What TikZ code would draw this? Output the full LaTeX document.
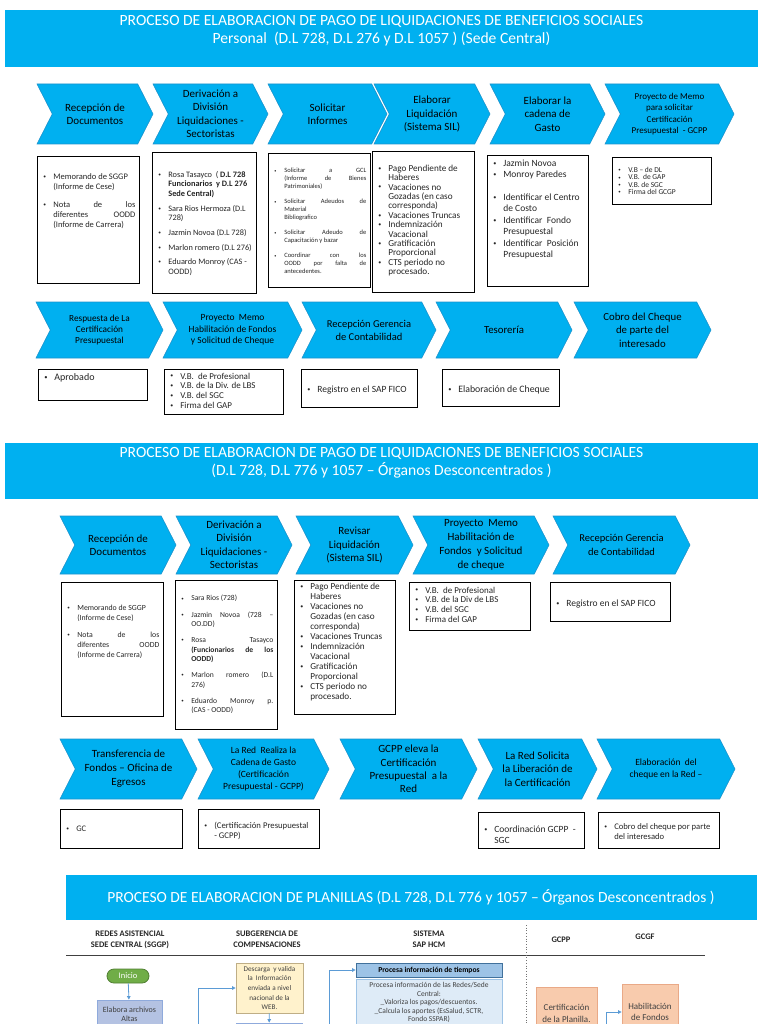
\documentclass[tikz,border=0pt]{standalone}
\usepackage{fontspec}
\setmainfont{Carlito}
\usetikzlibrary{shapes.symbols,arrows.meta,positioning}

\definecolor{hdrblue}{HTML}{00B0F0}
\definecolor{chevedge}{HTML}{1C93CC}
\definecolor{flowblue}{HTML}{5B9BD5}
\definecolor{startgreen}{HTML}{70AD47}
\definecolor{startedge}{HTML}{507E32}
\definecolor{altasfill}{HTML}{B4C2E2}
\definecolor{altasedge}{HTML}{8FAADC}
\definecolor{yelfill}{HTML}{FFF2CC}
\definecolor{yeledge}{HTML}{BFAE86}
\definecolor{tmphdfill}{HTML}{9DC3E6}
\definecolor{tmphdedge}{HTML}{41719C}
\definecolor{tmpfill}{HTML}{DEEBF7}
\definecolor{orgfill}{HTML}{F8CBAD}
\definecolor{orgedge}{HTML}{E9A987}
\definecolor{flowtext}{HTML}{404040}

% bullet item, gap between items, framed list of fixed size
\newcommand\itm{\par\hangindent=12pt\hangafter=1\noindent\makebox[12pt][l]{\hspace{2pt}\raisebox{0.12em}{\scalebox{0.65}{\textbullet}}}}
\newcommand\igap[1]{\par\vspace{#1pt}}
\newcommand\lbox[3]{\parbox[c][#2pt][t]{#1pt}{\raggedright #3}}

\begin{document}
\begin{tikzpicture}[x=1pt, y=-1pt, >={Triangle[length=3.5pt,width=3.5pt]},
  hdr/.style={fill=hdrblue, inner sep=0pt},
  hdrtxt/.style={text=white, align=center, inner sep=0pt, font=\fontsize{15.6}{18}\selectfont},
  chev/.style={signal, signal from=west, signal to=east, signal pointer angle=126,
    fill=hdrblue, draw=chevedge, line width=0.6pt, inner sep=0pt, align=center,
    font=\fontsize{11}{13.5}\selectfont},
  infobox/.style={draw=black, line width=0.7pt, fill=white, anchor=north west,
    inner xsep=4pt, inner ysep=3pt, text=black!85},
  colhd/.style={align=center, text=black!85, font=\bfseries\fontsize{8.5}{11}\selectfont},
  startnode/.style={fill=startgreen, draw=startedge, line width=0.8pt, rounded corners=7pt,
    text=white, font=\fontsize{8.5}{10}\selectfont},
  altasbox/.style={fill=altasfill, draw=altasedge, line width=0.7pt, align=center,
    text=flowtext, font=\fontsize{8}{9.5}\selectfont},
  yelbox/.style={fill=yelfill, draw=yeledge, line width=0.7pt, align=center,
    text=flowtext, font=\fontsize{7.2}{9.6}\selectfont},
  tmphd/.style={fill=tmphdfill, draw=tmphdedge, line width=0.7pt, text=black,
    font=\bfseries\fontsize{7.6}{9}\selectfont},
  tmpbody/.style={fill=tmpfill, draw=tmphdfill, line width=0.7pt, align=center, text=flowtext,
    inner ysep=3pt, font=\fontsize{7.5}{8.6}\selectfont},
  orgbox/.style={fill=orgfill, draw=orgedge, line width=0.7pt, align=center,
    text=flowtext, font=\fontsize{9}{11.5}\selectfont},
  flow/.style={draw=flowblue, line width=0.8pt}]
\path[use as bounding box] (0,0) rectangle (768,1024);
\clip (0,0) rectangle (768,1024);

% ---- Sede Central
\node[hdr, minimum width=753pt, minimum height=57pt] (hdrA) at (381.5,38.5) {};
\node[hdrtxt] (ttlA) at (381.5,31) {PROCESO DE ELABORACION DE PAGO DE LIQUIDACIONES DE BENEFICIOS SOCIALES\\Personal~ (D.L 728, D.L 276 y D.L 1057 ) (Sede Central)};

\node[chev, minimum width=116pt, minimum height=60pt] (sA1) at (95,114) {Recepción de\\Documentos};
\node[chev, minimum width=115pt, minimum height=60pt] (sA2) at (210.5,114) {Derivación a\\División\\Liquidaciones -\\Sectoristas};
\node[chev, minimum width=119pt, minimum height=60pt] (sA3) at (327.5,114) {Solicitar\\Informes};
\node[chev, minimum width=116pt, minimum height=60pt] (sA4) at (432,114) {Elaborar\\Liquidación\\(Sistema SIL)};
\node[chev, minimum width=115pt, minimum height=60pt] (sA5) at (547.5,114) {Elaborar la\\cadena de\\Gasto};
\node[chev, minimum width=129pt, minimum height=60pt, font=\fontsize{9}{11.4}\selectfont] (sA6) at (669.5,114) {Proyecto de Memo\\para solicitar\\Certificación\\Presupuestal~ - GCPP};

\node[infobox, font=\fontsize{8.5}{10}\selectfont] (bA1) at (37,156) {\lbox{94}{121}{\vspace*{14.7pt}%
  \itm Memorando de SGGP\newline (Informe de Cese)
  \igap{8}\itm Nota\hfill de\hfill los\newline diferentes\hfill OODD\newline (Informe de Carrera)}};
\node[infobox, font=\fontsize{8.3}{9.7}\selectfont] (bA2) at (152,152) {\lbox{96}{135}{\vspace*{15.6pt}%
  \itm Rosa Tasayco~ ( \textbf{D.L 728\newline Funcionarios~ y D.L 276\newline Sede Central)}
  \igap{5}\itm Sara Rios Hermoza (D.L\newline 728)
  \igap{5}\itm Jazmin Novoa (D.L 728)
  \igap{5}\itm Marlon romero (D.L 276)
  \igap{5}\itm Eduardo Monroy (CAS -\newline OODD)}};
\node[infobox, font=\fontsize{6.5}{8}\selectfont] (bA3) at (268,153) {\lbox{94}{128}{\vspace*{12pt}%
  \itm Solicitar\hfill a\hfill GCL\newline (Informe\hfill de\hfill Bienes\newline Patrimoniales)
  \igap{7}\itm Solicitar\hfill Adeudos\hfill de\newline Material\newline Bibliografico
  \igap{7}\itm Solicitar\hfill Adeudo\hfill de\newline Capacitación y bazar
  \igap{7}\itm Coordinar\hfill con\hfill los\newline OODD\hfill por\hfill falta\hfill de\newline antecedentes.}};
\node[infobox, font=\fontsize{9.2}{9.4}\selectfont] (bA4) at (372,151) {\lbox{94}{135}{\vspace*{10.5pt}%
  \itm Pago Pendiente de\newline Haberes
  \itm Vacaciones no\newline Gozadas (en caso\newline corresponda)
  \itm Vacaciones Truncas
  \itm Indemnización\newline Vacacional
  \itm Gratificación\newline Proporcional
  \itm CTS periodo no\newline procesado.}};
\node[infobox, font=\fontsize{9.5}{11.5}\selectfont] (bA5) at (487,155) {\lbox{93}{125}{\vspace*{1.5pt}%
  \itm Jazmin Novoa
  \itm Monroy Paredes
  \igap{11}\itm Identificar el Centro\newline de Costo
  \itm Identificar~ Fondo\newline Presupuestal
  \itm Identificar~ Posición\newline Presupuestal}};
\node[infobox, font=\fontsize{7.5}{7.3}\selectfont] (bA6) at (612,157) {\lbox{91}{41}{\vspace*{7.1pt}%
  \itm V.B – de DL
  \itm V.B.~ de GAP
  \itm V.B. de SGC
  \itm Firma del GCGP}};

\node[chev, minimum width=127pt, minimum height=56pt, font=\fontsize{9.3}{11.3}\selectfont] (sB1) at (99.5,330) {Respuesta de La\\Certificación\\Presupuestal};
\node[chev, minimum width=139pt, minimum height=56pt, font=\fontsize{9.5}{11.3}\selectfont] (sB2) at (232.5,330) {Proyecto~ Memo\\Habilitación de Fondos\\y Solicitud de Cheque};
\node[chev, minimum width=134pt, minimum height=56pt, font=\fontsize{10.5}{13}\selectfont] (sB3) at (369,330) {Recepción Gerencia\\de Contabilidad};
\node[chev, minimum width=136pt, minimum height=56pt, font=\fontsize{10.8}{13}\selectfont] (sB4) at (504,330) {Tesorería};
\node[chev, minimum width=137pt, minimum height=56pt, font=\fontsize{10.8}{13.3}\selectfont] (sB5) at (642.5,330) {Cobro del Cheque\\de parte del\\interesado};

\node[infobox, font=\fontsize{10}{11}\selectfont] (bB1) at (38,369) {\lbox{101}{25}{\vspace*{1pt}%
  \itm Aprobado}};
\node[infobox, font=\fontsize{9}{9.7}\selectfont] (bB2) at (164,369) {\lbox{111}{39}{\vspace*{0.4pt}%
  \itm V.B.~ de Profesional
  \itm V.B. de la Div. de LBS
  \itm V.B. del SGC
  \itm Firma del GAP}};
\node[infobox, font=\fontsize{9.5}{11}\selectfont] (bB3) at (301,369) {\lbox{108}{32}{\vspace*{13.5pt}%
  \itm Registro en el SAP FICO}};
\node[infobox, font=\fontsize{9.8}{11}\selectfont] (bB4) at (442,369) {\lbox{109}{31}{\vspace*{13.4pt}%
  \itm Elaboración de Cheque}};

% ---- Organos Desconcentrados
\node[hdr, minimum width=753pt, minimum height=56pt] (hdrB) at (381.5,471) {};
\node[hdrtxt] (ttlB) at (381.5,463) {PROCESO DE ELABORACION DE PAGO DE LIQUIDACIONES DE BENEFICIOS SOCIALES\\(D.L 728, D.L 776 y 1057 – Órganos Desconcentrados )};

\node[chev, minimum width=116pt, minimum height=58pt] (sC1) at (118,545) {Recepción de\\Documentos};
\node[chev, minimum width=116pt, minimum height=58pt] (sC2) at (234,545) {Derivación a\\División\\Liquidaciones -\\Sectoristas};
\node[chev, minimum width=117pt, minimum height=58pt] (sC3) at (354.5,545) {Revisar\\Liquidación\\(Sistema SIL)};
\node[chev, minimum width=136pt, minimum height=58pt, font=\fontsize{11}{13.8}\selectfont] (sC4) at (481,545) {Proyecto~ Memo\\Habilitación de\\Fondos~ y Solicitud\\de cheque};
\node[chev, minimum width=137pt, minimum height=58pt, font=\fontsize{10.5}{13.5}\selectfont] (sC5) at (621.5,545) {Recepción Gerencia\\de Contabilidad};

\node[infobox, font=\fontsize{7.8}{10}\selectfont] (bC1) at (61,582) {\lbox{94}{128}{\vspace*{20pt}%
  \itm Memorando de SGGP\newline (Informe de Cese)
  \igap{7}\itm Nota\hfill de\hfill los\newline diferentes\hfill OODD\newline (Informe de Carrera)}};
\node[infobox, font=\fontsize{7.6}{9.3}\selectfont] (bC2) at (175,580) {\lbox{94}{143}{\vspace*{12pt}%
  \itm Sara Rios (728)
  \igap{7}\itm Jazmin\hfill Novoa\hfill (728\hfill –\newline OO.DD)
  \igap{7}\itm Rosa\hfill Tasayco\newline \textbf{(Funcionarios\hfill de\hfill los\newline OODD)}
  \igap{7}\itm Marlon\hfill romero\hfill (D.L\newline 276)
  \igap{7}\itm Eduardo\hfill Monroy\hfill p.\newline (CAS - OODD)}};
\node[infobox, font=\fontsize{9.2}{10}\selectfont] (bC3) at (294,580) {\lbox{93}{128}{%
  \itm Pago Pendiente de\newline Haberes
  \itm Vacaciones no\newline Gozadas (en caso\newline corresponda)
  \itm Vacaciones Truncas
  \itm Indemnización\newline Vacacional
  \itm Gratificación\newline Proporcional
  \itm CTS periodo no\newline procesado.}};
\node[infobox, font=\fontsize{9}{9.7}\selectfont] (bC4) at (409,582) {\lbox{113}{42}{\vspace*{1.4pt}%
  \itm V.B.~ de Profesional
  \itm V.B. de la Div de LBS
  \itm V.B. del SGC
  \itm Firma del GAP}};
\node[infobox, font=\fontsize{9.5}{11}\selectfont] (bC5) at (550,582) {\lbox{112}{33}{\vspace*{14.5pt}%
  \itm Registro en el SAP FICO}};

\node[chev, minimum width=137pt, minimum height=60pt, font=\fontsize{11}{14}\selectfont] (sD1) at (128.5,769) {Transferencia de\\Fondos – Oficina de\\Egresos};
\node[chev, minimum width=131pt, minimum height=60pt, font=\fontsize{9.5}{11.7}\selectfont] (sD2) at (263.5,769) {La Red~ Realiza la\\Cadena de Gasto\\(Certificación\\Presupuestal - GCPP)};
\node[chev, minimum width=137pt, minimum height=60pt, font=\fontsize{11}{13.3}\selectfont] (sD3) at (408.5,769) {GCPP eleva la\\Certificación\\Presupuestal~ a la\\Red};
\node[chev, minimum width=119pt, minimum height=60pt, font=\fontsize{11}{13.3}\selectfont] (sD4) at (537.5,769) {La Red Solicita\\la Liberación de\\la Certificación};
\node[chev, minimum width=138pt, minimum height=60pt, font=\fontsize{9.5}{12.5}\selectfont] (sD5) at (666,769) {Elaboración~ del\\cheque en la Red –};

\node[infobox, font=\fontsize{8.5}{10}\selectfont] (bD1) at (60,809) {\lbox{114}{33}{\vspace*{13.3pt}%
  \itm GC}};
\node[infobox, font=\fontsize{8.7}{10}\selectfont] (bD2) at (198,809) {\lbox{113}{33}{\vspace*{9.7pt}%
  \itm (Certificación Presupuestal\newline - GCPP)}};
\node[infobox, font=\fontsize{9.5}{11}\selectfont] (bD3) at (478,812) {\lbox{98}{30}{\vspace*{10.5pt}%
  \itm Coordinación GCPP~ -\newline SGC}};
\node[infobox, font=\fontsize{8.6}{10.5}\selectfont] (bD4) at (598,812) {\lbox{113}{30}{\vspace*{7.8pt}%
  \itm Cobro del cheque por parte\newline del interesado}};

% ---- Planillas
\node[hdr, minimum width=691pt, minimum height=45pt] (hdrC) at (411.5,897.5) {};
\node[hdrtxt, font=\fontsize{15.5}{18}\selectfont] (ttlC) at (411,897) {PROCESO DE ELABORACION DE PLANILLAS (D.L 728, D.L 776 y 1057 – Órganos Desconcentrados )};

\node[colhd] (hRedes) at (130,940) {REDES ASISTENCIAL\\SEDE CENTRAL (SGGP)};
\node[colhd] (hSub) at (267,939) {SUBGERENCIA DE\\COMPENSACIONES};
\node[colhd] (hSap) at (429,939) {SISTEMA\\SAP HCM};
\node[colhd] (hGcpp) at (561,940) {GCPP};
\node[colhd] (hGcgf) at (645,937) {GCGF};
\draw[black!75, line width=1pt] (66,955) -- (705,955);
\draw[black!55, line width=0.7pt, dotted] (526,925) -- (526,1024);

\node[startnode, minimum width=42pt, minimum height=14pt] (inicio) at (128,976) {Inicio};
\node[altasbox, minimum width=65pt, minimum height=28pt] (altas) at (129.5,1014) {Elabora archivos\\Altas};
\draw[flow, ->] (inicio) -- (altas);

\node[yelbox, minimum width=67pt, minimum height=48pt] (descarga) at (269.5,988) {Descarga~ y valida\\la~ Información\\enviada a nivel\\nacional de la\\WEB.};
\node[altasbox, minimum width=66pt, minimum height=40pt] (valida) at (269,1043) {};
\draw[flow, ->] (descarga) -- (valida);
\coordinate (inA) at (198,1030);
\draw[flow, ->] (inA) |- (descarga.west);

\node[tmphd, minimum width=146pt, minimum height=14pt] (tmpHd) at (429,970) {Procesa información de tiempos};
\node[tmpbody, minimum width=146pt, anchor=north] (tmpBody) at (429,979) {Procesa información de las Redes/Sede\\Central:\\\_Valoriza los pagos/descuentos.\\\_Calcula los aportes (EsSalud, SCTR,\\Fondo SSPAR)};
\coordinate (inB) at (329,1030);
\draw[flow, ->] (inB) |- (tmpHd.west);

\node[orgbox, minimum width=61pt, minimum height=53pt] (cert) at (566.5,1013.5) {Certificación\\de la Planilla.};
\node[orgbox, minimum width=56pt, minimum height=56pt] (habil) at (650,1012) {Habilitación\\de Fondos};
\coordinate (inC) at (606,1030);
\draw[flow, ->] (inC) |- (habil.west);
\end{tikzpicture}
\end{document}
